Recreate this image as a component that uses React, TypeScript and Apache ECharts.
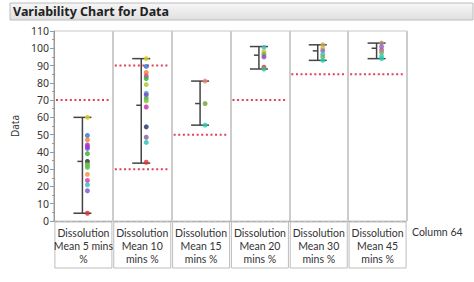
import React, { useEffect, useRef } from "react";
import * as echarts from "echarts";

const categories = [
  "Dissolution\nMean 5 mins\n%",
  "Dissolution\nMean 10\nmins %",
  "Dissolution\nMean 15\nmins %",
  "Dissolution\nMean 20\nmins %",
  "Dissolution\nMean 30\nmins %",
  "Dissolution\nMean 45\nmins %",
];
const yTicks = { min: 0, max: 110, interval: 10 };
const rangeLow = [4.5, 33.5, 55.5, 88, 93, 94];
const rangeHigh = [60, 94, 81, 101, 102, 103];
const cellMeans = [34.5, 67, 68, 96, 98.5, 100];
const specCategory = [0, 1, 1, 2, 3, 4, 5];
const specValue = [70, 90, 30, 50, 70, 85, 85];

const values5 = [60, 49.5, 47, 44, 43, 42, 39, 34.5, 33, 32, 31, 27, 23.5, 21, 17.5, 4.5];
const colors5 = ["#d8d020", "#3070d0", "#f08020", "#9030d0", "#c030c0", "#8040e0", "#30b030", "#202020", "#40b040", "#80c040", "#50c050", "#f09040", "#e030a0", "#20c0c0", "#8050c0", "#e03030"];
const values10 = [94, 89.5, 86, 84, 82.5, 79, 74, 73, 71, 69.5, 66, 54.5, 48.5, 45.5, 34];
const colors10 = ["#d8d020", "#3070d0", "#f08020", "#e030a0", "#30b030", "#b0c030", "#20c0c0", "#9030d0", "#40b040", "#80c040", "#c030a0", "#203060", "#8060a0", "#20c0b0", "#e03030"];
const values15 = [81, 68, 55.5];
const colors15 = ["#f08070", "#70a030", "#20d0b0"];
const values20 = [100.5, 98, 96.5, 95, 89, 88];
const colors20 = ["#40c0c0", "#d0c030", "#60b040", "#9040c0", "#e03030", "#20d0a0"];
const values30 = [102, 100, 98.5, 96.5, 95, 93];
const colors30 = ["#c0a060", "#d0c030", "#9060c0", "#40c0c0", "#70b050", "#20d0b0"];
const values45 = [103, 101, 99, 97.5, 95.5, 94];
const colors45 = ["#b09070", "#9060c0", "#c050a0", "#70b050", "#40c0c0", "#20d0b0"];

const pointValues = [values5, values10, values15, values20, values30, values45];
const pointColors = [colors5, colors10, colors15, colors20, colors30, colors45];

const FONT = "Noto Sans";
const LABEL_FONT = "Lato";

export default function App() {
  const ref = useRef<HTMLDivElement>(null);
  useEffect(() => {
    document.body.style.margin = "0";
    if (!ref.current) return;
    const chart = echarts.init(ref.current, undefined, { renderer: "svg" });

    const scatterData: any[] = [];
    pointValues.forEach((vals, i) => {
      vals.forEach((v, j) => {
        scatterData.push({ value: [i, v], itemStyle: { color: pointColors[i][j] } });
      });
    });
    const rangeData = categories.map((_, i) => [i, rangeLow[i], rangeHigh[i], cellMeans[i]]);
    const specData = specCategory.map((c, i) => [c, specValue[i]]);

    chart.setOption({
      animation: false,
      textStyle: { fontFamily: FONT },
      graphic: [
        {
          type: "rect",
          shape: { x: 10, y: 3, width: 463, height: 17 },
          style: {
            fill: new echarts.graphic.LinearGradient(0, 0, 0, 1, [
              { offset: 0, color: "#f6f6f6" },
              { offset: 1, color: "#e0e0e0" },
            ]),
            stroke: "#bcbcbc",
            lineWidth: 1,
          },
        },
        {
          type: "text",
          x: 13,
          y: 11.5,
          style: {
            text: "Variability Chart for Data",
            fontFamily: FONT,
            fontSize: 12.5,
            fontWeight: "bold",
            fill: "#222",
            verticalAlign: "middle",
          },
        },
        {
          type: "text",
          x: 412,
          y: 226,
          style: { text: "Column 64", fontFamily: LABEL_FONT, fontSize: 10.5, fill: "#333" },
        },
      ],
      grid: { left: 54, top: 31, right: 67, bottom: 61, show: true, borderColor: "#c8c8c8", borderWidth: 1 },
      xAxis: {
        type: "category",
        data: categories,
        boundaryGap: true,
        axisTick: { show: false },
        axisLine: { show: true, lineStyle: { color: "#aaa", type: "dashed" } },
        splitLine: { show: true, interval: 0, lineStyle: { color: "#cccccc", width: 2 } },
        axisLabel: {
          interval: 0,
          fontFamily: LABEL_FONT,
          fontSize: 10.5,
          lineHeight: 13,
          color: "#333",
          width: 57,
          height: 39,
          padding: [4, 0, 3, 0],
          borderColor: "#bdbdbd",
          borderWidth: 1,
          align: "center",
          verticalAlign: "top",
          margin: 1,
        },
      },
      yAxis: {
        type: "value",
        min: yTicks.min,
        max: yTicks.max,
        interval: yTicks.interval,
        name: "Data",
        nameLocation: "middle",
        nameGap: 29,
        nameTextStyle: { fontFamily: FONT, fontSize: 10, color: "#333" },
        axisLine: { show: true, lineStyle: { color: "#999" } },
        axisTick: { show: true, length: 4, lineStyle: { color: "#999" } },
        minorTick: { show: true, splitNumber: 2, length: 2, lineStyle: { color: "#999" } },
        splitLine: { show: false },
        axisLabel: { fontFamily: FONT, fontSize: 10.5, color: "#333", margin: 5 },
      },
      series: [
        {
          type: "custom",
          data: specData,
          z: 2,
          renderItem: (params: any, api: any) => {
            const p = api.coord([api.value(0), api.value(1)]);
            const bw = api.size([1, 0])[0];
            return {
              type: "line",
              shape: { x1: p[0] - bw / 2 + 2, y1: p[1], x2: p[0] + bw / 2 - 2, y2: p[1] },
              style: { stroke: "#e0405a", lineWidth: 2, lineDash: [2, 2.6] },
            };
          },
        },
        {
          type: "custom",
          data: rangeData,
          z: 3,
          renderItem: (params: any, api: any) => {
            const x = api.value(0);
            const pLo = api.coord([x, api.value(1)]);
            const pHi = api.coord([x, api.value(2)]);
            const pM = api.coord([x, api.value(3)]);
            const cx = pLo[0] - 1;
            const hw = 9;
            const style = { stroke: "#444", lineWidth: 1.5 };
            return {
              type: "group",
              children: [
                { type: "line", shape: { x1: cx, y1: pHi[1], x2: cx, y2: pLo[1] }, style },
                { type: "line", shape: { x1: cx - hw, y1: pHi[1], x2: cx + hw, y2: pHi[1] }, style },
                { type: "line", shape: { x1: cx - hw, y1: pLo[1], x2: cx + hw, y2: pLo[1] }, style },
                { type: "line", shape: { x1: cx - 5, y1: pM[1], x2: cx, y2: pM[1] }, style },
              ],
            };
          },
        },
        {
          type: "scatter",
          data: scatterData,
          symbol: "circle",
          symbolSize: 5,
          symbolOffset: [4, 0],
          z: 4,
        },
      ],
    });
    return () => chart.dispose();
  }, []);
  return <div ref={ref} style={{ width: 474, height: 282 }} />;
}
